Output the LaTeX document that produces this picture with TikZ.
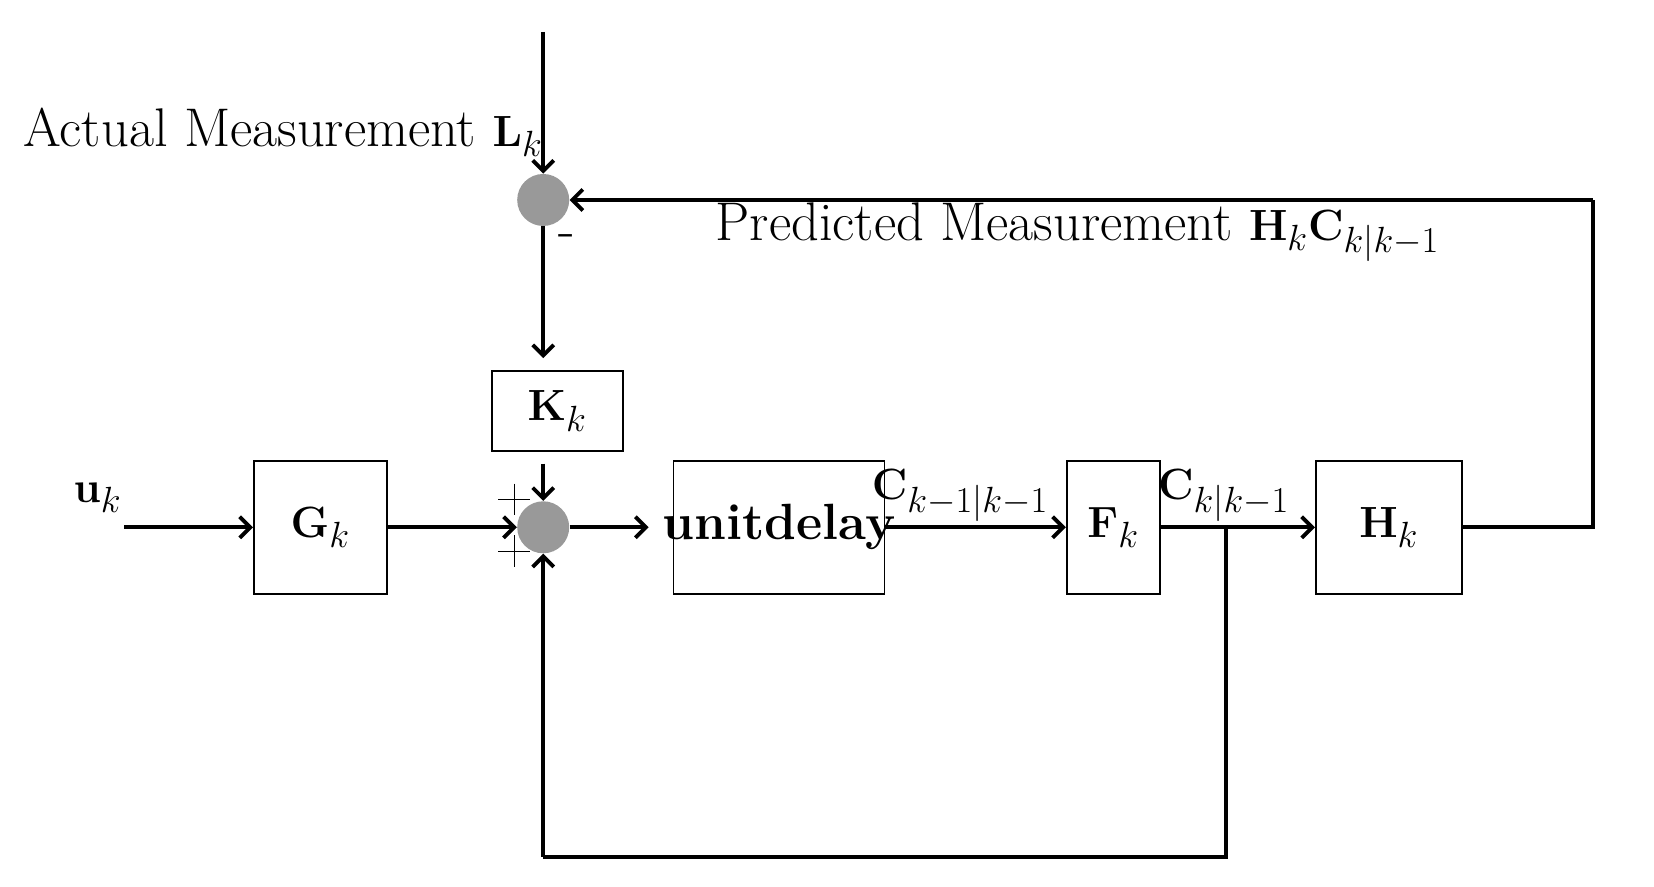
\documentclass[tikz,border=0pt]{standalone}
\usetikzlibrary{arrows.meta}
\begin{document}
\begin{tikzpicture}[x=0.0199cm,y=-0.0199cm,
  line/.style={line width=2.2pt},
  arr/.style={line, -{Straight Barb[length=6pt,width=12pt]}},
  blk/.style={draw, line width=1pt, minimum width=#1, inner sep=0pt},
  sum/.style={circle, fill=gray!80, minimum size=1.04cm, inner sep=0pt},
  big/.style={font=\fontsize{31}{36}\selectfont},
  lab/.style={font=\fontsize{31}{36}\selectfont}]
\useasboundingbox (0cm,0cm) rectangle (33.08cm,-17.72cm);
\node[sum] (s1) at (546,201) {};
\node[sum] (s2) at (546,530) {};
\node[blk, minimum width=2.62cm, minimum height=1.6cm, font=\fontsize{29}{34}\selectfont] (K) at (560,413) {$\mathbf{K}_k$};
\node[blk, minimum width=2.66cm, minimum height=2.66cm, big] (G) at (322,530) {$\mathbf{G}_k$};
\node[blk, minimum width=4.22cm, minimum height=2.66cm] (U) at (783,530) {};
\node[font=\fontsize{29}{34}\selectfont] at (783,530) {\textbf{unitdelay}};
\node[blk, minimum width=1.86cm, minimum height=2.66cm, big] (F) at (1119,530) {$\mathbf{F}_k$};
\node[blk, minimum width=2.92cm, minimum height=2.66cm, big] (H) at (1396,530) {$\mathbf{H}_k$};
\coordinate (top) at (546,32);
\coordinate (kin) at (546,360);
\coordinate (kout) at (546,466);
\coordinate (uin) at (125,530);
\coordinate (sout) at (652,530);
\coordinate (br) at (1232,530);
\coordinate (br2) at (1232,861);
\coordinate (bl) at (546,861);
\coordinate (tr) at (1601,530);
\coordinate (tr2) at (1601,201);
\node[lab, anchor=east, inner sep=0pt] at (546,133) {Actual Measurement $\mathbf{L}_k$};
\node[lab] at (570,242) {-};
\node[lab] at (1083,233) {Predicted Measurement $\mathbf{H}_k\mathbf{C}_{k|k-1}$};
\node[big] at (98,500) {$\mathbf{u}_k$};
\node[big] at (965,498) {$\mathbf{C}_{k-1|k-1}$};
\node[big] at (1230,498) {$\mathbf{C}_{k|k-1}$};
\draw[arr] (top) -- (s1);
\draw[arr] (s1) -- (kin);
\draw[arr] (kout) -- (s2);
\draw[arr] (uin) -- (G);
\draw[arr] (G) -- (s2);
\draw[arr] (s2) -- (sout);
\draw[arr] (U) -- (F);
\draw[arr] (F) -- (H);
\draw[line] (H) -- (tr) -- (tr2);
\draw[arr] (tr2) -- (s1);
\draw[line] (br) -- (br2) -- (bl);
\draw[arr] (bl) -- (s2);
\draw[line width=0.4pt] (517,486) -- (517,518) (501,502) -- (533,502)
  (517,538) -- (517,570) (501,554) -- (533,554);
\end{tikzpicture}
\end{document}
